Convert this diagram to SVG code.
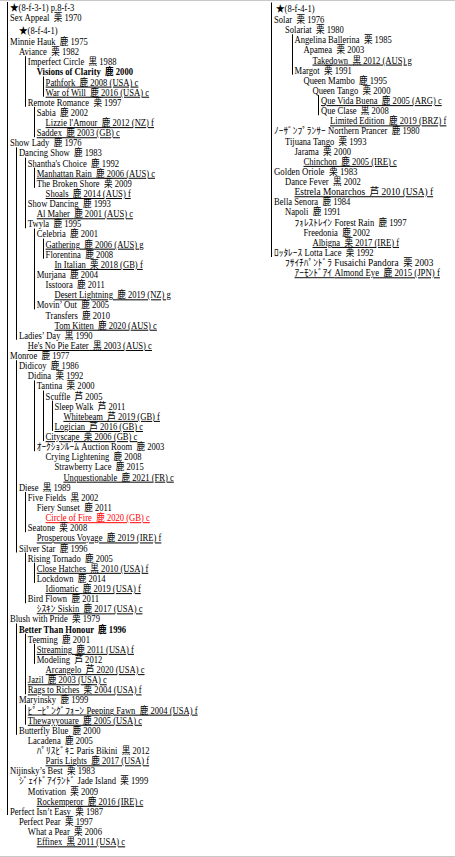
<svg xmlns="http://www.w3.org/2000/svg" width="455" height="857" viewBox="0 0 455 857" xml:space="preserve">
<style>
text { font-family: "Liberation Serif", "Noto Sans CJK JP", serif; font-size: 10px; fill: #000; white-space: pre; }
.k { font-size: 9.4px; }
.u { text-decoration: underline; }
.b { font-weight: bold; }
.r { fill: #f00; }
#connectors line { stroke: #000; stroke-width: 1; }
.frame { stroke: #c8c8c8; stroke-width: 1; }
</style>
<rect x="0" y="0" width="455" height="857" fill="#fff"/>
<line class="frame" x1="0" y1="0.5" x2="455" y2="0.5"/>
<line class="frame" x1="0" y1="856.5" x2="455" y2="856.5"/>
<g id="connectors">
<line x1="7.5" y1="2" x2="7.5" y2="815"/>
<line x1="25.5" y1="56.3" x2="25.5" y2="106.8"/>
<line x1="43.5" y1="76.5" x2="43.5" y2="96.7"/>
<line x1="34.5" y1="106.9" x2="34.5" y2="137.2"/>
<line x1="16.5" y1="147.4" x2="16.5" y2="339.8"/>
<line x1="25.5" y1="157.6" x2="25.5" y2="228.3"/>
<line x1="34.5" y1="167.7" x2="34.5" y2="187.8"/>
<line x1="34.5" y1="228.5" x2="34.5" y2="309.4"/>
<line x1="43.5" y1="238.6" x2="43.5" y2="258.7"/>
<line x1="16.5" y1="360.2" x2="16.5" y2="552.5"/>
<line x1="34.5" y1="380.4" x2="34.5" y2="451.2"/>
<line x1="43.5" y1="390.6" x2="43.5" y2="441.1"/>
<line x1="52.5" y1="400.7" x2="52.5" y2="430.9"/>
<line x1="25.5" y1="491.9" x2="25.5" y2="532.2"/>
<line x1="25.5" y1="552.6" x2="25.5" y2="603.2"/>
<line x1="34.5" y1="562.8" x2="34.5" y2="582.9"/>
<line x1="16.5" y1="623.5" x2="16.5" y2="734.8"/>
<line x1="25.5" y1="633.7" x2="25.5" y2="694.3"/>
<line x1="34.5" y1="643.8" x2="34.5" y2="663.9"/>
<line x1="25.5" y1="704.6" x2="25.5" y2="724.7"/>
<line x1="271.5" y1="2.5" x2="271.5" y2="257"/>
<line x1="292.5" y1="34.3" x2="292.5" y2="74.7"/>
<line x1="318.5" y1="95" x2="318.5" y2="115.2"/>
</g>
<g id="n-ref-8f31"><text transform="matrix(.86 0 0 1 10 10.5)">★(8-f-3-1) p.8-f-3</text></g>
<g id="n-sex-appeal"><text transform="matrix(.86 0 0 1 10 20.5)">Sex Appeal  栗 1970</text></g>
<g id="n-ref-8f41-left"><text transform="matrix(.86 0 0 1 19 33.5)">★(8-f-4-1)</text></g>
<g id="n-minnie-hauk"><text transform="matrix(.86 0 0 1 10 45)">Minnie Hauk  鹿 1975</text></g>
<g id="n-aviance"><text transform="matrix(.86 0 0 1 18.9 55.13)">Aviance  栗 1982</text></g>
<g id="n-imperfect-circle"><text transform="matrix(.86 0 0 1 27.8 65.26)">Imperfect Circle  黒 1988</text></g>
<g id="n-visions-of-clarity"><text class="b" transform="matrix(.86 0 0 1 36.7 75.39)">Visions of Clarity  鹿 2000</text></g>
<g id="n-pathfork"><text class="u" transform="matrix(.86 0 0 1 45.6 85.52)">Pathfork  鹿 2008 (USA) c</text></g>
<g id="n-war-of-will"><text class="u" transform="matrix(.86 0 0 1 45.6 95.65)">War of Will  鹿 2016 (USA) c</text></g>
<g id="n-remote-romance"><text transform="matrix(.86 0 0 1 27.8 105.78)">Remote Romance  栗 1997</text></g>
<g id="n-sabia"><text transform="matrix(.86 0 0 1 36.7 115.91)">Sabia  鹿 2002</text></g>
<g id="n-lizzie"><text class="u" transform="matrix(.86 0 0 1 45.6 126.04)">Lizzie l'Amour  鹿 2012 (NZ) f</text></g>
<g id="n-saddex"><text class="u" transform="matrix(.86 0 0 1 36.7 136.17)">Saddex  鹿 2003 (GB) c</text></g>
<g id="n-show-lady"><text transform="matrix(.86 0 0 1 10 146.3)">Show Lady  鹿 1976</text></g>
<g id="n-dancing-show"><text transform="matrix(.86 0 0 1 18.9 156.43)">Dancing Show  鹿 1983</text></g>
<g id="n-shanthas-choice"><text transform="matrix(.86 0 0 1 27.8 166.56)">Shantha's Choice  鹿 1992</text></g>
<g id="n-manhattan-rain"><text class="u" transform="matrix(.86 0 0 1 36.7 176.69)">Manhattan Rain  鹿 2006 (AUS) c</text></g>
<g id="n-broken-shore"><text transform="matrix(.86 0 0 1 36.7 186.82)">The Broken Shore  栗 2009</text></g>
<g id="n-shoals"><text class="u" transform="matrix(.86 0 0 1 45.6 196.95)">Shoals  鹿 2014 (AUS) f</text></g>
<g id="n-show-dancing"><text transform="matrix(.86 0 0 1 27.8 207.08)">Show Dancing  鹿 1993</text></g>
<g id="n-al-maher"><text class="u" transform="matrix(.86 0 0 1 36.7 217.21)">Al Maher  鹿 2001 (AUS) c</text></g>
<g id="n-twyla"><text transform="matrix(.86 0 0 1 27.8 227.34)">Twyla  鹿 1995</text></g>
<g id="n-celebria"><text transform="matrix(.86 0 0 1 36.7 237.47)">Celebria  鹿 2001</text></g>
<g id="n-gathering"><text class="u" transform="matrix(.86 0 0 1 45.6 247.6)">Gathering  鹿 2006 (AUS) g</text></g>
<g id="n-florentina"><text transform="matrix(.86 0 0 1 45.6 257.73)">Florentina  鹿 2008</text></g>
<g id="n-in-italian"><text class="u" transform="matrix(.86 0 0 1 54.5 267.86)">In Italian  栗 2018 (GB) f</text></g>
<g id="n-murjana"><text transform="matrix(.86 0 0 1 36.7 277.99)">Murjana  鹿 2004</text></g>
<g id="n-isstoora"><text transform="matrix(.86 0 0 1 45.6 288.12)">Isstoora  鹿 2011</text></g>
<g id="n-desert-lightning"><text class="u" transform="matrix(.86 0 0 1 54.5 298.25)">Desert Lightning  鹿 2019 (NZ) g</text></g>
<g id="n-movin-out"><text transform="matrix(.86 0 0 1 36.7 308.38)">Movin’ Out  鹿 2005</text></g>
<g id="n-transfers"><text transform="matrix(.86 0 0 1 45.6 318.51)">Transfers  鹿 2010</text></g>
<g id="n-tom-kitten"><text class="u" transform="matrix(.86 0 0 1 54.5 328.64)">Tom Kitten  鹿 2020 (AUS) c</text></g>
<g id="n-ladies-day"><text transform="matrix(.86 0 0 1 18.9 338.77)">Ladies’ Day  黒 1990</text></g>
<g id="n-hes-no-pie-eater"><text class="u" transform="matrix(.86 0 0 1 27.8 348.9)">He's No Pie Eater  黒 2003 (AUS) c</text></g>
<g id="n-monroe"><text transform="matrix(.86 0 0 1 10 359.03)">Monroe  鹿 1977</text></g>
<g id="n-didicoy"><text transform="matrix(.86 0 0 1 18.9 369.16)">Didicoy  鹿 1986</text></g>
<g id="n-didina"><text transform="matrix(.86 0 0 1 27.8 379.29)">Didina  栗 1992</text></g>
<g id="n-tantina"><text transform="matrix(.86 0 0 1 36.7 389.42)">Tantina  栗 2000</text></g>
<g id="n-scuffle"><text transform="matrix(.86 0 0 1 45.6 399.55)">Scuffle  芦 2005</text></g>
<g id="n-sleep-walk"><text transform="matrix(.86 0 0 1 54.5 409.68)">Sleep Walk  芦 2011</text></g>
<g id="n-whitebeam"><text class="u" transform="matrix(.86 0 0 1 63.4 419.81)">Whitebeam  芦 2019 (GB) f</text></g>
<g id="n-logician"><text class="u" transform="matrix(.86 0 0 1 54.5 429.94)">Logician  芦 2016 (GB) c</text></g>
<g id="n-cityscape"><text class="u" transform="matrix(.86 0 0 1 45.6 440.07)">Cityscape  栗 2006 (GB) c</text></g>
<g id="n-auction-room"><text class="k" x="36.7" y="450.2">ｵｰｸｼｮﾝﾙｰﾑ </text><text transform="matrix(.86 0 0 1 81.3 450.2)">Auction Room  鹿 2003</text></g>
<g id="n-crying-lightening"><text transform="matrix(.86 0 0 1 45.6 460.33)">Crying Lightening  鹿 2008</text></g>
<g id="n-strawberry-lace"><text transform="matrix(.86 0 0 1 54.5 470.46)">Strawberry Lace  鹿 2015</text></g>
<g id="n-unquestionable"><text class="u" transform="matrix(.86 0 0 1 63.4 480.59)">Unquestionable  鹿 2021 (FR) c</text></g>
<g id="n-diese"><text transform="matrix(.86 0 0 1 18.9 490.72)">Diese  黒 1989</text></g>
<g id="n-five-fields"><text transform="matrix(.86 0 0 1 27.8 500.85)">Five Fields  黒 2002</text></g>
<g id="n-fiery-sunset"><text transform="matrix(.86 0 0 1 36.7 510.98)">Fiery Sunset  鹿 2011</text></g>
<g id="n-circle-of-fire"><text class="u r" transform="matrix(.86 0 0 1 45.6 521.11)">Circle of Fire  鹿 2020 (GB) c</text></g>
<g id="n-seatone"><text transform="matrix(.86 0 0 1 27.8 531.24)">Seatone  栗 2008</text></g>
<g id="n-prosperous-voyage"><text class="u" transform="matrix(.86 0 0 1 36.7 541.37)">Prosperous Voyage  鹿 2019 (IRE) f</text></g>
<g id="n-silver-star"><text transform="matrix(.86 0 0 1 18.9 551.5)">Silver Star  鹿 1996</text></g>
<g id="n-rising-tornado"><text transform="matrix(.86 0 0 1 27.8 561.63)">Rising Tornado  鹿 2005</text></g>
<g id="n-close-hatches"><text class="u" transform="matrix(.86 0 0 1 36.7 571.76)">Close Hatches  黒 2010 (USA) f</text></g>
<g id="n-lockdown"><text transform="matrix(.86 0 0 1 36.7 581.89)">Lockdown  鹿 2014</text></g>
<g id="n-idiomatic"><text class="u" transform="matrix(.86 0 0 1 45.6 592.02)">Idiomatic  鹿 2019 (USA) f</text></g>
<g id="n-bird-flown"><text transform="matrix(.86 0 0 1 27.8 602.15)">Bird Flown  鹿 2011</text></g>
<g id="n-siskin"><text class="k u" x="36.7" y="612.28">ｼｽｷﾝ </text><text class="u" transform="matrix(.86 0 0 1 57.8 612.28)">Siskin  鹿 2017 (USA) c</text></g>
<g id="n-blush-with-pride"><text transform="matrix(.86 0 0 1 10 622.41)">Blush with Pride  栗 1979</text></g>
<g id="n-better-than-honour"><text class="b" transform="matrix(.86 0 0 1 18.9 632.54)">Better Than Honour  鹿 1996</text></g>
<g id="n-teeming"><text transform="matrix(.86 0 0 1 27.8 642.67)">Teeming  鹿 2001</text></g>
<g id="n-streaming"><text class="u" transform="matrix(.86 0 0 1 36.7 652.8)">Streaming  鹿 2011 (USA) f</text></g>
<g id="n-modeling"><text transform="matrix(.86 0 0 1 36.7 662.93)">Modeling  芦 2012</text></g>
<g id="n-arcangelo"><text class="u" transform="matrix(.86 0 0 1 45.6 673.06)">Arcangelo  芦 2020 (USA) c</text></g>
<g id="n-jazil"><text class="u" transform="matrix(.86 0 0 1 27.8 683.19)">Jazil  鹿 2003 (USA) c</text></g>
<g id="n-rags-to-riches"><text class="u" transform="matrix(.86 0 0 1 27.8 693.32)">Rags to Riches  栗 2004 (USA) f</text></g>
<g id="n-maryinsky"><text transform="matrix(.86 0 0 1 18.9 703.45)">Maryinsky  鹿 1999</text></g>
<g id="n-peeping-fawn"><text class="k u" x="27.8" y="713.58">ﾋﾟｰﾋﾟﾝｸﾞﾌｫｰﾝ </text><text class="u" transform="matrix(.86 0 0 1 86.5 713.58)">Peeping Fawn  鹿 2004 (USA) f</text></g>
<g id="n-thewayyouare"><text class="u" transform="matrix(.86 0 0 1 27.8 723.71)">Thewayyouare  鹿 2005 (USA) c</text></g>
<g id="n-butterfly-blue"><text transform="matrix(.86 0 0 1 18.9 733.84)">Butterfly Blue  鹿 2000</text></g>
<g id="n-lacadena"><text transform="matrix(.86 0 0 1 27.8 743.97)">Lacadena  鹿 2005</text></g>
<g id="n-paris-bikini"><text class="k" x="36.7" y="754.1">ﾊﾟﾘｽﾋﾞｷﾆ </text><text transform="matrix(.86 0 0 1 76.6 754.1)">Paris Bikini  黒 2012</text></g>
<g id="n-paris-lights"><text class="u" transform="matrix(.86 0 0 1 45.6 764.23)">Paris Lights  鹿 2017 (USA) f</text></g>
<g id="n-nijinskys-best"><text transform="matrix(.86 0 0 1 10 774.36)">Nijinsky’s Best  栗 1983</text></g>
<g id="n-jade-island"><text class="k" x="18.9" y="784.49">ｼﾞｪｲﾄﾞｱｲﾗﾝﾄﾞ </text><text transform="matrix(.86 0 0 1 77.6 784.49)">Jade Island  栗 1999</text></g>
<g id="n-motivation"><text transform="matrix(.86 0 0 1 27.8 794.62)">Motivation  栗 2009</text></g>
<g id="n-rockemperor"><text class="u" transform="matrix(.86 0 0 1 36.7 804.75)">Rockemperor  鹿 2016 (IRE) c</text></g>
<g id="n-perfect-isnt-easy"><text transform="matrix(.86 0 0 1 10 814.88)">Perfect Isn’t Easy  栗 1987</text></g>
<g id="n-perfect-pear"><text transform="matrix(.86 0 0 1 18.9 825.01)">Perfect Pear  栗 1997</text></g>
<g id="n-what-a-pear"><text transform="matrix(.86 0 0 1 27.8 835.14)">What a Pear  栗 2006</text></g>
<g id="n-effinex"><text class="u" transform="matrix(.86 0 0 1 36.7 845.27)">Effinex  黒 2011 (USA) c</text></g>
<g id="n-ref-8f41-right"><text transform="matrix(.86 0 0 1 276 11.5)">★(8-f-4-1)</text></g>
<g id="n-solar"><text transform="matrix(.86 0 0 1 274 23)">Solar  栗 1976</text></g>
<g id="n-solariat"><text transform="matrix(.86 0 0 1 285 33.13)">Solariat  栗 1980</text></g>
<g id="n-angelina-ballerina"><text transform="matrix(.86 0 0 1 294.5 43.26)">Angelina Ballerina  栗 1985</text></g>
<g id="n-apamea"><text transform="matrix(.86 0 0 1 303.5 53.39)">Apamea  栗 2003</text></g>
<g id="n-takedown"><text class="u" transform="matrix(.86 0 0 1 312.5 63.52)">Takedown  黒 2012 (AUS) g</text></g>
<g id="n-margot"><text transform="matrix(.86 0 0 1 294.5 73.65)">Margot  栗 1991</text></g>
<g id="n-queen-mambo"><text transform="matrix(.86 0 0 1 303.5 83.78)">Queen Mambo  鹿 1995</text></g>
<g id="n-queen-tango"><text transform="matrix(.86 0 0 1 312.5 93.91)">Queen Tango  栗 2000</text></g>
<g id="n-que-vida-buena"><text class="u" transform="matrix(.86 0 0 1 321 104.04)">Que Vida Buena  鹿 2005 (ARG) c</text></g>
<g id="n-que-clase"><text transform="matrix(.86 0 0 1 321 114.17)">Que Clase  黒 2008</text></g>
<g id="n-limited-edition"><text class="u" transform="matrix(.86 0 0 1 330 124.3)">Limited Edition  鹿 2019 (BRZ) f</text></g>
<g id="n-northern-prancer"><text class="k" x="274" y="134.43">ﾉｰｻﾞﾝﾌﾟﾗﾝｻｰ </text><text transform="matrix(.86 0 0 1 328 134.43)">Northern Prancer  鹿 1980</text></g>
<g id="n-tijuana-tango"><text transform="matrix(.86 0 0 1 285 144.56)">Tijuana Tango  栗 1993</text></g>
<g id="n-jarama"><text transform="matrix(.86 0 0 1 294.5 154.69)">Jarama  栗 2000</text></g>
<g id="n-chinchon"><text class="u" transform="matrix(.86 0 0 1 303.5 164.82)">Chinchon  鹿 2005 (IRE) c</text></g>
<g id="n-golden-oriole"><text transform="matrix(.88 0 0 1 274 174.95)">Golden Oriole  栗 1983</text></g>
<g id="n-dance-fever"><text transform="matrix(.86 0 0 1 285 185.08)">Dance Fever  黒 2002</text></g>
<g id="n-estrela-monarchos"><text class="u" transform="matrix(.94 0 0 1 294.5 195.21)">Estrela Monarchos  芦 2010 (USA) f</text></g>
<g id="n-bella-senora"><text transform="matrix(.86 0 0 1 274 205.34)">Bella Senora  鹿 1984</text></g>
<g id="n-napoli"><text transform="matrix(.86 0 0 1 285 215.47)">Napoli  鹿 1991</text></g>
<g id="n-forest-rain"><text class="k" x="294.5" y="225.6">ﾌｫﾚｽﾄﾚｲﾝ </text><text transform="matrix(.86 0 0 1 334.4 225.6)">Forest Rain  鹿 1997</text></g>
<g id="n-freedonia"><text transform="matrix(.86 0 0 1 303.5 235.73)">Freedonia  鹿 2002</text></g>
<g id="n-albigna"><text class="u" transform="matrix(.86 0 0 1 312.5 245.86)">Albigna  栗 2017 (IRE) f</text></g>
<g id="n-lotta-lace"><text class="k" x="274" y="255.99">ﾛｯﾀﾚｰｽ </text><text transform="matrix(.86 0 0 1 304.5 255.99)">Lotta Lace  栗 1992</text></g>
<g id="n-fusaichi-pandora"><text class="k" x="285" y="266.12">ﾌｻｲﾁﾊﾟﾝﾄﾞﾗ </text><text transform="matrix(.93 0 0 1 334.3 266.12)">Fusaichi Pandora  栗 2003</text></g>
<g id="n-almond-eye"><text class="k u" x="294.5" y="276.25">ｱｰﾓﾝﾄﾞｱｲ </text><text class="u" transform="matrix(.88 0 0 1 334.4 276.25)">Almond Eye  鹿 2015 (JPN) f</text></g>
</svg>
